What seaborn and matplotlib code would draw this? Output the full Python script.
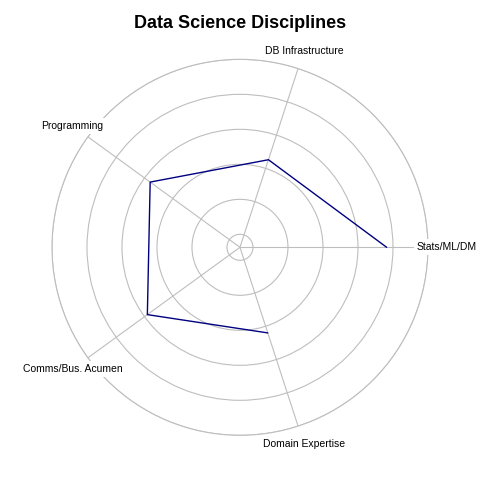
import numpy as np
import pandas as pd
import seaborn as sns
import matplotlib.pyplot as plt

# skill ratings (grid rings at 0..5)
disciplines = ['Stats/ML/DM', 'DB Infrastructure', 'Programming',
               'Comms/Bus. Acumen', 'Domain Expertise']
scores = [3.82, 2.26, 2.8, 2.9, 2.2]
rings = [0, 1, 2, 3, 4, 5]

sns.set_style('white')
plt.rcParams['font.family'] = ['Liberation Sans', 'DejaVu Sans']
plt.rcParams['text.color'] = 'black'

n = len(disciplines)
angles = np.arange(n) * 2 * np.pi / n
df = pd.DataFrame({'theta': np.append(angles, angles[0]),
                   'r': np.append(scores, scores[0])})

fig = plt.figure(figsize=(4.8, 4.8), dpi=100)
ax = fig.add_axes([0.1083, 0.0931, 0.7833, 0.7833], projection='polar')

sns.lineplot(data=df, x='theta', y='r', sort=False, ax=ax,
             color='#000080', linewidth=1.0, zorder=3)

ax.set_ylim(-13 / 35, 5)
ax.set_yticks(rings)
ax.set_yticklabels([])
ax.set_xticks(angles)
ax.set_xticklabels([])
ax.grid(True, color='#bebebe', linewidth=0.8)
ax.spines['polar'].set_color('#bebebe')
ax.spines['polar'].set_linewidth(0.8)
ax.set_xlabel('')
ax.set_ylabel('')

for a, name in zip(angles, disciplines):
    ax.text(a, 5.54, name, ha='center', va='center', fontsize=7.5,
            color='black',
            bbox=dict(boxstyle='square,pad=0.3', fc='white', ec='none'),
            zorder=4)

fig.text(0.5, 1 - 23.5 / 480, 'Data Science Disciplines', ha='center',
         va='center', fontsize=13, fontweight='bold', color='black')

fig.savefig('out.png', dpi=100)
